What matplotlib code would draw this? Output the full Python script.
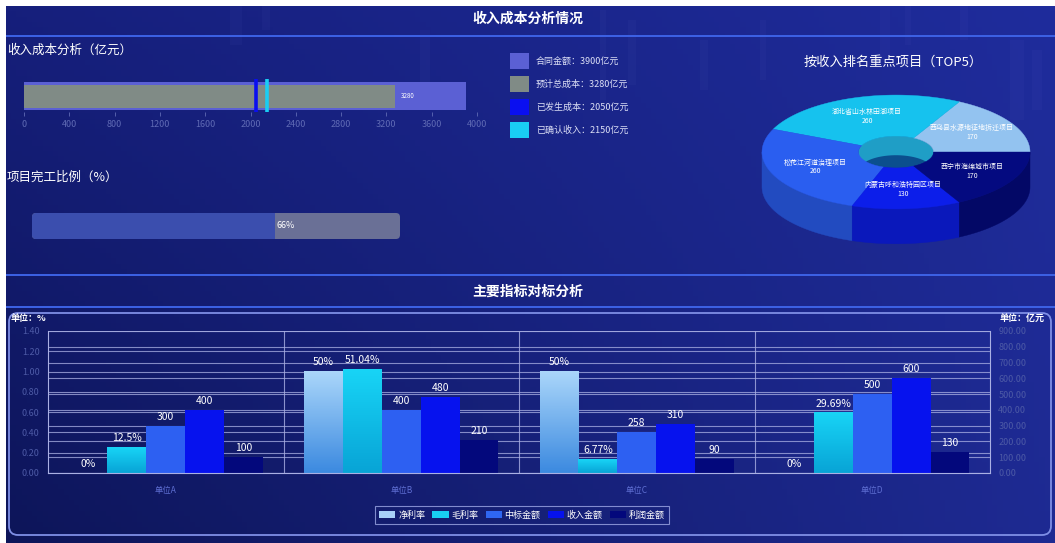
import numpy as np
import matplotlib
matplotlib.use('Agg')
import matplotlib.pyplot as plt
from matplotlib.patches import Polygon, FancyBboxPatch, Rectangle, Patch
from matplotlib.colors import LinearSegmentedColormap, to_rgb
import matplotlib.transforms as mtransforms

plt.rcParams['font.family'] = ['Noto Sans CJK SC', 'DejaVu Sans']

# ---------------- data ----------------
main_title = '收入成本分析情况'
section2_title = '主要指标对标分析'

bullet_labels = ['合同金额：', '预计总成本：', '已发生成本：', '已确认收入：']
bullet_values = [3900, 3280, 2050, 2150]
bullet_colors = ['#5b60d4', '#808b86', '#0a0ff0', '#19cdf4']
bullet_ticks = list(range(0, 4001, 400))

completion_pct = 66

pie_title = '按收入排名重点项目（TOP5）'
pie_names = ['西乌县水源地征地拆迁项目', '湖北省山水林田湖项目', '松花江河道治理项目',
             '内蒙古呼和浩特园区项目', '西宁市海绵城市项目']
pie_values = [170, 260, 260, 130, 170]
pie_colors = ['#93c3f0', '#16c2ee', '#2a5ef0', '#0c1eea', '#040a80']

categories = ['单位A', '单位B', '单位C', '单位D']
series_names = ['净利率', '毛利率', '中标金额', '收入金额', '利润金额']
net_margin = [0, 50, 50, 0]
gross_margin = [12.5, 51.04, 6.77, 29.69]
bid_amount = [300, 400, 258, 500]
revenue = [400, 480, 310, 600]
profit = [100, 210, 90, 130]
left_ticks = [0.0, 0.2, 0.4, 0.6, 0.8, 1.0, 1.2, 1.4]
right_ticks = [0, 100, 200, 300, 400, 500, 600, 700, 800, 900]

# ---------------- figure helpers ----------------
W, H = 1055, 543
fig = plt.figure(figsize=(W / 100, H / 100), dpi=100, facecolor='white')


def px_axes(x0, y0, x1, y1, **kw):
    return fig.add_axes([x0 / W, 1 - y1 / H, (x1 - x0) / W, (y1 - y0) / H], **kw)


# ---------------- background ----------------
bg = px_axes(6, 6, W, H)
bg.set_xlim(6, W)
bg.set_ylim(H, 6)
bg.axis('off')
tl, tr = np.array(to_rgb('#161f7c')), np.array(to_rgb('#1f2c9c'))
bl, br = np.array(to_rgb('#0d1559')), np.array(to_rgb('#1e2a92'))
gx = np.linspace(0, 1, 200)[None, :, None]
gy = np.linspace(0, 1, 100)[:, None, None]
img = (1 - gy) * ((1 - gx) * tl + gx * tr) + gy * ((1 - gx) * bl + gx * br)
bg.imshow(img, extent=[6, W, H, 6], aspect='auto', zorder=0)
# faint skyline strips (decoration)
strips = [(230, 12, 0, 45), (262, 8, 0, 30), (420, 10, 30, 95), (600, 6, 10, 100),
          (628, 8, 20, 85), (880, 10, 0, 60), (905, 6, 0, 45), (960, 8, 0, 40),
          (1010, 14, 40, 120), (1032, 10, 50, 110), (700, 8, 40, 90), (760, 6, 20, 80)]
for sx, sw, sy0, sy1 in strips:
    bg.add_patch(Rectangle((sx, sy0), sw, sy1 - sy0, facecolor='#8a8ef0', alpha=0.04,
                           edgecolor='none', zorder=1))
# separator lines
for yy in (36, 275, 307):
    bg.plot([6, W], [yy, yy], color='#3d62e6', lw=1.4, zorder=2)
# bottom panel border
bg.add_patch(FancyBboxPatch((9, 313), 1042, 222, boxstyle='round,pad=0,rounding_size=9',
                            facecolor='none', edgecolor='#7f8fe6', lw=1.3, zorder=2))

fig.text(528 / W, 1 - 19 / H, main_title, color='white', fontsize=10, fontweight='bold',
         ha='center', va='center')
fig.text(528 / W, 1 - 292 / H, section2_title, color='white', fontsize=10, fontweight='bold',
         ha='center', va='center')
fig.text(7 / W, 1 - 50 / H, '收入成本分析（亿元）', color='white', fontsize=9, ha='left', va='center')
fig.text(7 / W, 1 - 177 / H, '项目完工比例（%）', color='white', fontsize=9, ha='left', va='center')
fig.text(893 / W, 1 - 62 / H, pie_title, color='white', fontsize=9.5, ha='center', va='center')

# ---------------- bullet chart ----------------
axb = px_axes(24, 76, 477, 112)
axb.set_xlim(0, 4000)
axb.set_ylim(112, 76)
axb.patch.set_visible(False)
axb.barh([96], [bullet_values[0]], height=28, color=bullet_colors[0], zorder=1)
axb.barh([96.5], [bullet_values[1]], height=23, color=bullet_colors[1], zorder=2)
axb.vlines(bullet_values[2], 79, 112, color=bullet_colors[2], lw=2.6, zorder=3)
axb.vlines(bullet_values[3], 79, 112, color=bullet_colors[3], lw=2.6, zorder=3)
axb.text(bullet_values[1] + 50, 96, f'{bullet_values[1]}', color='white', fontsize=4.5,
         va='center', ha='left')
axb.set_xticks(bullet_ticks)
axb.set_xticklabels([str(t) for t in bullet_ticks])
axb.set_yticks([])
axb.tick_params(axis='x', colors='#5f6ab4', labelsize=6.5, length=3, width=0.6, pad=3)
for s in axb.spines.values():
    s.set_visible(False)

# bullet legend
for i, (lab, val, col) in enumerate(zip(bullet_labels, bullet_values, bullet_colors)):
    yc = 61 + i * 23
    bg.add_patch(Rectangle((510, yc - 8), 19, 16, facecolor=col, edgecolor='none', zorder=3))
    bg.text(536, yc, f'{lab}{val}亿元', color='#dde0f6', fontsize=6.5, va='center',
            ha='left', zorder=3)

# ---------------- progress bar ----------------
axp = px_axes(32, 213, 400, 239)
axp.set_xlim(0, 100)
axp.set_ylim(0, 1)
axp.axis('off')
m_asp = (1 / 26) / (100 / 368)
axp.add_patch(FancyBboxPatch((0, 0), 100, 1, boxstyle='round,pad=0,rounding_size=1.1',
                             mutation_aspect=m_asp, facecolor='#6a7096', edgecolor='none'))
axp.add_patch(FancyBboxPatch((0, 0), completion_pct, 1, boxstyle='round,pad=0,rounding_size=1.1',
                             mutation_aspect=m_asp, facecolor='#3b4eae', edgecolor='none'))
axp.add_patch(Rectangle((completion_pct - 2, 0), 2, 1, facecolor='#3b4eae', edgecolor='none'))
axp.text(completion_pct + 0.5, 0.5, f'{completion_pct}%', color='white', fontsize=6.5,
         va='center', ha='left')

# ---------------- 3D donut ----------------
axc = px_axes(750, 85, 1050, 255)
axc.set_xlim(-146 / 134, 154 / 134)
axc.set_ylim(-103 / 134, 67 / 134)
axc.axis('off')
k, R, r_in, hh = 0.425, 1.0, 0.28, 0.26


def ell(r, th, dz=0.0):
    return np.c_[r * np.cos(th), r * k * np.sin(th) - dz]


def shade(c, f):
    return tuple(np.clip(np.array(to_rgb(c)) * f, 0, 1))


bounds = np.concatenate([[0], np.cumsum(pie_values)]) / sum(pie_values) * 360.0
# side walls (front half)
for i, col in enumerate(pie_colors):
    a, b = bounds[i], bounds[i + 1]
    a2, b2 = max(a, 180), min(b, 360)
    if b2 > a2:
        th = np.radians(np.linspace(a2, b2, 80))
        top = ell(R, th)
        bot = ell(R, th[::-1], hh)
        axc.add_patch(Polygon(np.vstack([top, bot]), closed=True, facecolor=shade(col, 0.8),
                              edgecolor=shade(col, 0.8), lw=0.3, zorder=1))
# hole floor and inner back wall
th = np.radians(np.linspace(0, 360, 200))
axc.add_patch(Polygon(ell(r_in, th), closed=True, facecolor='#0b4f8e', edgecolor='none', zorder=1))
th = np.radians(np.linspace(0, 180, 100))
axc.add_patch(Polygon(np.vstack([ell(r_in, th), ell(r_in, th[::-1], hh * 0.55)]), closed=True,
                      facecolor='#1f9ec6', edgecolor='none', zorder=2))
# top faces
for i, col in enumerate(pie_colors):
    a, b = bounds[i], bounds[i + 1]
    th = np.radians(np.linspace(a, b, 100))
    poly = np.vstack([ell(R, th), ell(r_in, th[::-1])])
    axc.add_patch(Polygon(poly, closed=True, facecolor=col, edgecolor=col, lw=0.3, zorder=3))
    mid = np.radians((a + b) / 2)
    lx, ly = 0.66 * np.cos(mid), 0.66 * k * np.sin(mid)
    axc.text(lx, ly, f'{pie_names[i]}\n{pie_values[i]}', color='white', fontsize=5,
             ha='center', va='center', zorder=4, linespacing=1.1)

# ---------------- bottom bar chart ----------------
ax2 = px_axes(48, 331, 990, 473)          # right axis (amounts), drawn behind
ax = fig.add_axes(ax2.get_position(), sharex=ax2)   # left axis (percent), on top
ax.set_zorder(ax2.get_zorder() + 1)
ax.patch.set_visible(False)
ax2.patch.set_visible(False)

ax2.set_xlim(-0.5, 3.5)
ax.set_ylim(0, 1.4)
ax2.set_ylim(0, 900)

grid_c = '#aab0e4'
for v in right_ticks:
    ax2.axhline(v, color=grid_c, lw=0.8, alpha=0.75, zorder=0)
trans_left = mtransforms.blended_transform_factory(ax2.transAxes, ax.transData)
for v in left_ticks:
    ax2.plot([0, 1], [v, v], transform=trans_left, color=grid_c, lw=0.8, alpha=0.75, zorder=0)
for xv in (0.5, 1.5, 2.5):
    ax2.axvline(xv, color=grid_c, lw=0.8, alpha=0.8, zorder=0)

bw = 0.165
xs = np.arange(len(categories))
offs = (np.arange(5) - 2) * bw

pct_series = [net_margin, gross_margin]
amt_series = [bid_amount, revenue, profit]
grad_cols = [('#aad6fa', '#3c8ae0'), ('#18d4f6', '#08a4d6')]
amt_cols = ['#2d60f2', '#0612ee', '#03087c']

for j, ser in enumerate(pct_series):
    hts = [v / 50 for v in ser]
    bars = ax.bar(xs + offs[j], hts, width=bw, color=grad_cols[j][0], zorder=2)
    cmap = LinearSegmentedColormap.from_list(f'g{j}', [grad_cols[j][1], grad_cols[j][0]])
    for bar, v in zip(bars, ser):
        x0, hgt = bar.get_x(), bar.get_height()
        if hgt > 0:
            ax.imshow(np.linspace(0, 1, 64).reshape(-1, 1), extent=[x0, x0 + bw, 0, hgt],
                      origin='lower', aspect='auto', cmap=cmap, zorder=2.5)
        ax.annotate(f'{v:g}%', (x0 + bw / 2, hgt), xytext=(0, 3), textcoords='offset points',
                    ha='center', va='bottom', color='white', fontsize=7.5, zorder=5)

for j, ser in enumerate(amt_series):
    bars = ax2.bar(xs + offs[j + 2], ser, width=bw, color=amt_cols[j], zorder=2)
    for bar, v in zip(bars, ser):
        ax2.annotate(f'{v:g}', (bar.get_x() + bw / 2, bar.get_height()), xytext=(0, 3),
                     textcoords='offset points', ha='center', va='bottom', color='white',
                     fontsize=7.5, zorder=5)

ax.set_xlim(-0.5, 3.5)
ax.set_ylim(0, 1.4)
ax2.set_ylim(0, 900)

ax.set_yticks(left_ticks)
ax.set_yticklabels([f'{v:.2f}' for v in left_ticks])
ax2.yaxis.tick_right()
ax2.set_yticks(right_ticks)
ax2.set_yticklabels([f'{v:.2f}' for v in right_ticks])
ax.tick_params(axis='y', colors='#4d5aa6', labelsize=6.5, length=0, pad=6)
ax2.tick_params(axis='y', colors='#4d5aa6', labelsize=6.5, length=0, pad=6)
ax.set_xticks(xs)
ax.set_xticklabels(categories)
ax.tick_params(axis='x', colors='#5e6ed2', labelsize=6, length=0, pad=9)
ax2.tick_params(axis='x', length=0, labelbottom=False)

for a in (ax, ax2):
    for s in a.spines.values():
        s.set_visible(False)
ax.spines['left'].set_visible(True)
ax.spines['left'].set_color(grid_c)
ax.spines['bottom'].set_visible(True)
ax.spines['bottom'].set_color(grid_c)
ax2.spines['right'].set_visible(True)
ax2.spines['right'].set_color(grid_c)

fig.text(11 / W, 1 - 318 / H, '单位：%', color='white', fontsize=6.5, fontweight='bold',
         ha='left', va='center')
fig.text(1000 / W, 1 - 318 / H, '单位：亿元', color='white', fontsize=6.5, fontweight='bold',
         ha='left', va='center')

handles = [Patch(facecolor=c) for c in ['#a8d0f8', '#18d0f2', '#2f66f2', '#0612ee', '#03087c']]
leg = fig.legend(handles, series_names, loc='center', bbox_to_anchor=(522 / W, 1 - 515 / H),
                 ncol=5, fontsize=6.5, frameon=True, handlelength=1.8, handleheight=0.9,
                 handletextpad=0.3, columnspacing=0.8, borderpad=0.5, labelcolor='white')
leg.get_frame().set_facecolor('none')
leg.get_frame().set_edgecolor('#9ea8e6')
leg.get_frame().set_boxstyle('square,pad=0')
leg.get_frame().set_linewidth(0.8)

fig.savefig('out.png', dpi=100, facecolor='white')
